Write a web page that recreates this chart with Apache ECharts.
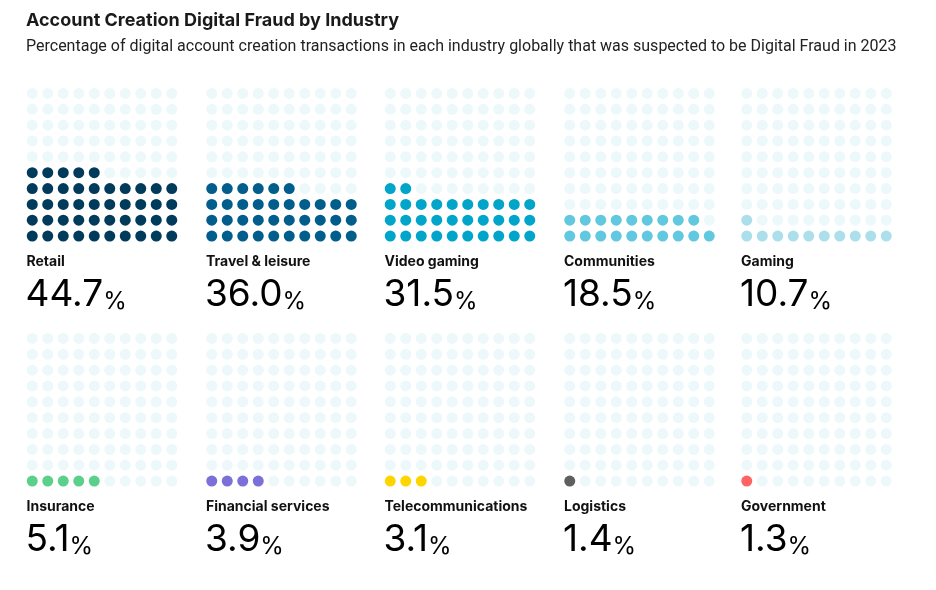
<!DOCTYPE html>
<html>
<head>
<meta charset="utf-8">
<script src="https://cdn.jsdelivr.net/npm/echarts@6/dist/echarts.min.js"></script>
<style>
  html, body { margin: 0; padding: 0; background: #fff; }
  #chart { width: 936px; height: 590px; }
</style>
</head>
<body>
<div id="chart"></div>
<script>
// data
const industries = ['Retail', 'Travel & leisure', 'Video gaming', 'Communities', 'Gaming',
  'Insurance', 'Financial services', 'Telecommunications', 'Logistics', 'Government']
const shares = [44.7, 36.0, 31.5, 18.5, 10.7, 5.1, 3.9, 3.1, 1.4, 1.3]
const dotColors = ['#003b5c', '#005d8c', '#00a5c9', '#62c8df', '#abdfeb',
  '#5bd08a', '#7b6fd9', '#ffd500', '#5f5f5f', '#ff6262']
const emptyColor = '#edf8fa'

const chart = echarts.init(document.getElementById('chart'))

// panel layout: 5 columns x 2 rows
const panelLeft = [24.5, 204, 382.5, 562, 739]
const panelTop = [85.5, 330.5]
const gridW = 155
const gridH = 158.5

const grids = [], xAxes = [], yAxes = [], series = [], titles = []

titles.push({
  text: 'Account Creation Digital Fraud by Industry',
  left: 26, top: 12, padding: 0,
  textStyle: {fontFamily: 'Inter', fontSize: 18, fontWeight: 'bold', color: '#1a1a1a'}
})
titles.push({
  text: 'Percentage of digital account creation transactions in each industry globally that was suspected to be Digital Fraud in 2023',
  left: 26, top: 39, padding: 0,
  textStyle: {fontFamily: 'Roboto', fontSize: 16, fontWeight: 'normal', color: '#222'}
})

industries.forEach((name, i) => {
  const col = i % 5
  const row = Math.floor(i / 5)
  const left = panelLeft[col]
  const top = panelTop[row]
  grids.push({left, top, width: gridW, height: gridH})
  xAxes.push({type: 'value', gridIndex: i, min: -0.5, max: 9.5, show: false})
  yAxes.push({type: 'value', gridIndex: i, min: -0.5, max: 9.5, show: false})

  const filled = Math.round(shares[i])
  const dots = []
  for (let k = 0; k < 100; k++) {
    dots.push({
      value: [k % 10, Math.floor(k / 10)],
      itemStyle: {color: k < filled ? dotColors[i] : emptyColor, opacity: 1}
    })
  }
  series.push({
    type: 'scatter', name, xAxisIndex: i, yAxisIndex: i,
    symbolSize: 11, data: dots, silent: true,
    itemStyle: {opacity: 1}
  })

  titles.push({
    text: name,
    left: left + 2, top: top + 169, padding: 0,
    textStyle: {fontFamily: 'Inter', fontSize: 14, fontWeight: 'bold', color: '#111'}
  })
  titles.push({
    text: '{n|' + shares[i].toFixed(1) + '}{p|%}',
    left: left + 1, top: top + 191, padding: 0,
    textStyle: {
      rich: {
        n: {fontFamily: 'Inter', fontSize: 37, fontWeight: 'normal', color: '#000', verticalAlign: 'bottom'},
        p: {fontFamily: 'Inter', fontSize: 24, fontWeight: 'normal', color: '#000', verticalAlign: 'bottom'}
      }
    }
  })
})

chart.setOption({
  backgroundColor: '#fff',
  animation: false,
  title: titles,
  grid: grids,
  xAxis: xAxes,
  yAxis: yAxes,
  series
})
</script>
</body>
</html>
